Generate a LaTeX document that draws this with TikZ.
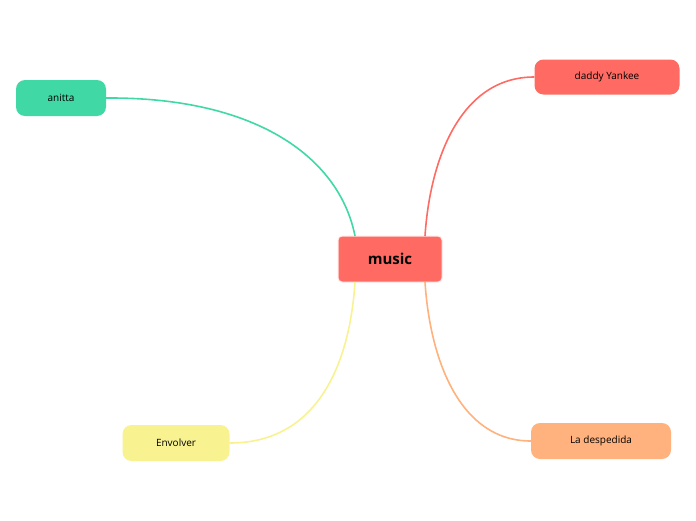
\documentclass[tikz,border=0pt]{standalone}
\usepackage{fontspec}
\setmainfont{Open Sans}
\definecolor{cred}{HTML}{FF6B63}
\definecolor{cgreen}{HTML}{40D9A6}
\definecolor{corange}{HTML}{FFB27D}
\definecolor{cyellow}{HTML}{F8F291}
\begin{document}
\begin{tikzpicture}[x=1pt,y=-1pt,
  topic/.style={rounded corners=9pt,minimum height=36pt,inner sep=0pt,font=\fontsize{10}{12}\selectfont},
  link/.style={line width=1.6pt}]
\useasboundingbox (0,0) rectangle (696,520);
\node[draw=white!85!cred,line width=1pt,fill=cred,rounded corners=4pt,minimum width=104pt,minimum height=46pt,font=\fontsize{15}{18}\selectfont\bfseries] (m) at (390,259) {music};
\node[topic,fill=cgreen,minimum width=90pt] (a) at (61,98) {anitta};
\node[topic,fill=cred,minimum width=145pt,minimum height=35pt] (d) at (607,77) {daddy Yankee};
\node[topic,fill=corange,minimum width=140pt] (l) at (601,441) {La despedida};
\node[topic,fill=cyellow,minimum width=107pt] (e) at (176,443) {Envolver};
\coordinate (m1) at (355,236); \coordinate (m2) at (425,236);
\coordinate (m3) at (425,282); \coordinate (m4) at (355,282);
\draw[link,cgreen] (a.east) .. controls (260,97) and (340,160) .. (m1);
\draw[link,cred] (d.west) .. controls (460,77) and (430,160) .. (m2);
\draw[link,corange] (l.west) .. controls (460,441) and (430,360) .. (m3);
\draw[link,cyellow] (e.east) .. controls (320,443) and (350,360) .. (m4);
\end{tikzpicture}
\end{document}
